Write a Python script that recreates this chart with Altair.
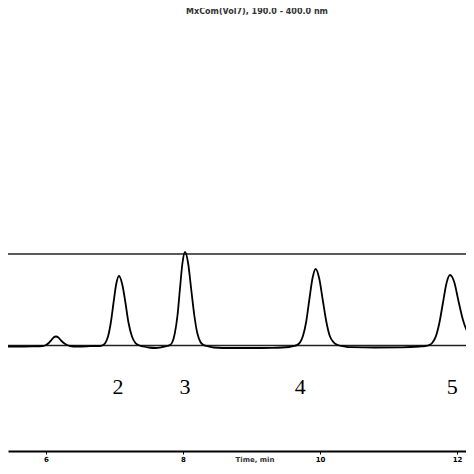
import altair as alt
import pandas as pd

# Chromatogram trace (time in min, signal in arbitrary units)
trace_time = [5.40, 5.60, 5.80, 5.95, 6.00, 6.04, 6.08, 6.11, 6.146, 6.18, 6.22, 6.26, 6.30, 6.35,
              6.45, 6.60, 6.70, 6.785, 6.825, 6.865, 6.905, 6.945, 6.985, 7.025, 7.065, 7.115, 7.16,
              7.205, 7.255, 7.305, 7.355, 7.42, 7.50, 7.60, 7.70, 7.77, 7.81, 7.845, 7.88, 7.92,
              7.955, 7.992, 8.029, 8.074, 8.119, 8.164, 8.209, 8.254, 8.30, 8.35, 8.45, 8.70, 9.00,
              9.30, 9.55, 9.617, 9.661, 9.707, 9.753, 9.80, 9.845, 9.891, 9.937, 9.99, 10.04,
              10.09, 10.14, 10.20, 10.26, 10.33, 10.45, 10.80, 11.20, 11.45, 11.537, 11.587,
              11.637, 11.691, 11.742, 11.794, 11.847, 11.897, 11.959, 12.021, 12.083, 12.145,
              12.20, 12.248]
trace_signal = [-0.5, -0.5, -0.3, 0, 1, 3, 6, 8.5, 9.5, 8.5, 5.5, 3, 1.2, 0,
                -0.5, -0.3, 0, 0, 0.8, 3, 9.5, 23, 43, 62, 70, 61, 43,
                23, 9.5, 3, 0.8, -0.5, -1.5, -2, -1, 0, 1, 4, 12.7, 31,
                57, 83, 94, 83, 57, 31, 12.7, 4, 1, 0, -1.5, -2, -2,
                -1.8, -1, 0, 0.9, 3.4, 10.4, 25, 47, 68, 77, 67, 46,
                25, 10.5, 3.5, 1, 0, -1.2, -1.5, -1.3, -0.5, 0, 0.8,
                3, 9.6, 23, 43, 63, 71, 64, 45, 27, 15,
                9, 6]

ref_levels = [0.5, 92]

peak_labels = ["2", "3", "4", "5"]
peak_label_time = [7.05, 8.03, 9.71, 11.93]
peak_label_signal = [-41, -41, -41, -41]

x_ticks = [6, 8, 10, 12]
title_text = "MxCom(Vol7),   190.0 -   400.0 nm"
axis_title_text = "Time, min"

trace_df = pd.DataFrame({"time": trace_time, "signal": trace_signal})
ref_df = pd.DataFrame({"level": ref_levels})
lab_df = pd.DataFrame({"time": peak_label_time, "signal": peak_label_signal, "label": peak_labels})

xscale = alt.Scale(domain=[5.445, 12.131], nice=False, zero=False)
yscale = alt.Scale(domain=[-105, 338], nice=False, zero=False)

xaxis = alt.Axis(values=x_ticks, format="d", title=None, grid=False,
                 labelFontSize=7, labelFontWeight="bold", labelColor="black",
                 labelFont="DejaVu Sans", labelPadding=1,
                 domainColor="black", domainWidth=2, tickColor="black", tickSize=3)

line = alt.Chart(trace_df).mark_line(color="black", strokeWidth=1.8, interpolate="monotone", clip=True).encode(
    x=alt.X("time:Q", scale=xscale, axis=xaxis),
    y=alt.Y("signal:Q", scale=yscale, axis=None),
)

rules = alt.Chart(ref_df).mark_rule(color="#222222", strokeWidth=1.4).encode(
    y=alt.Y("level:Q", scale=yscale, axis=None),
)

labels = alt.Chart(lab_df).mark_text(font="Liberation Serif", fontSize=22, color="black", baseline="middle").encode(
    x=alt.X("time:Q", scale=xscale),
    y=alt.Y("signal:Q", scale=yscale),
    text="label:N",
)

title = alt.Chart(pd.DataFrame({"t": [title_text]})).mark_text(
    font="DejaVu Sans", fontSize=8, fontWeight="bold", color="#333333", baseline="top"
).encode(x=alt.value(249), y=alt.value(0), text="t:N")

axis_title = alt.Chart(pd.DataFrame({"t": [axis_title_text]})).mark_text(
    font="DejaVu Sans", fontSize=7, fontWeight="bold", color="#333333", baseline="middle"
).encode(x=alt.value(247), y=alt.value(452), text="t:N")

chart = alt.layer(rules, line, labels, title, axis_title).properties(
    width=458, height=443,
    autosize=alt.AutoSizeParams(type="none"),
    padding={"left": 0, "top": 0, "right": 0, "bottom": 15},
).configure(background="white").configure_view(stroke=None)

chart.save("out.html", embed_options={"renderer": "svg", "actions": False})
